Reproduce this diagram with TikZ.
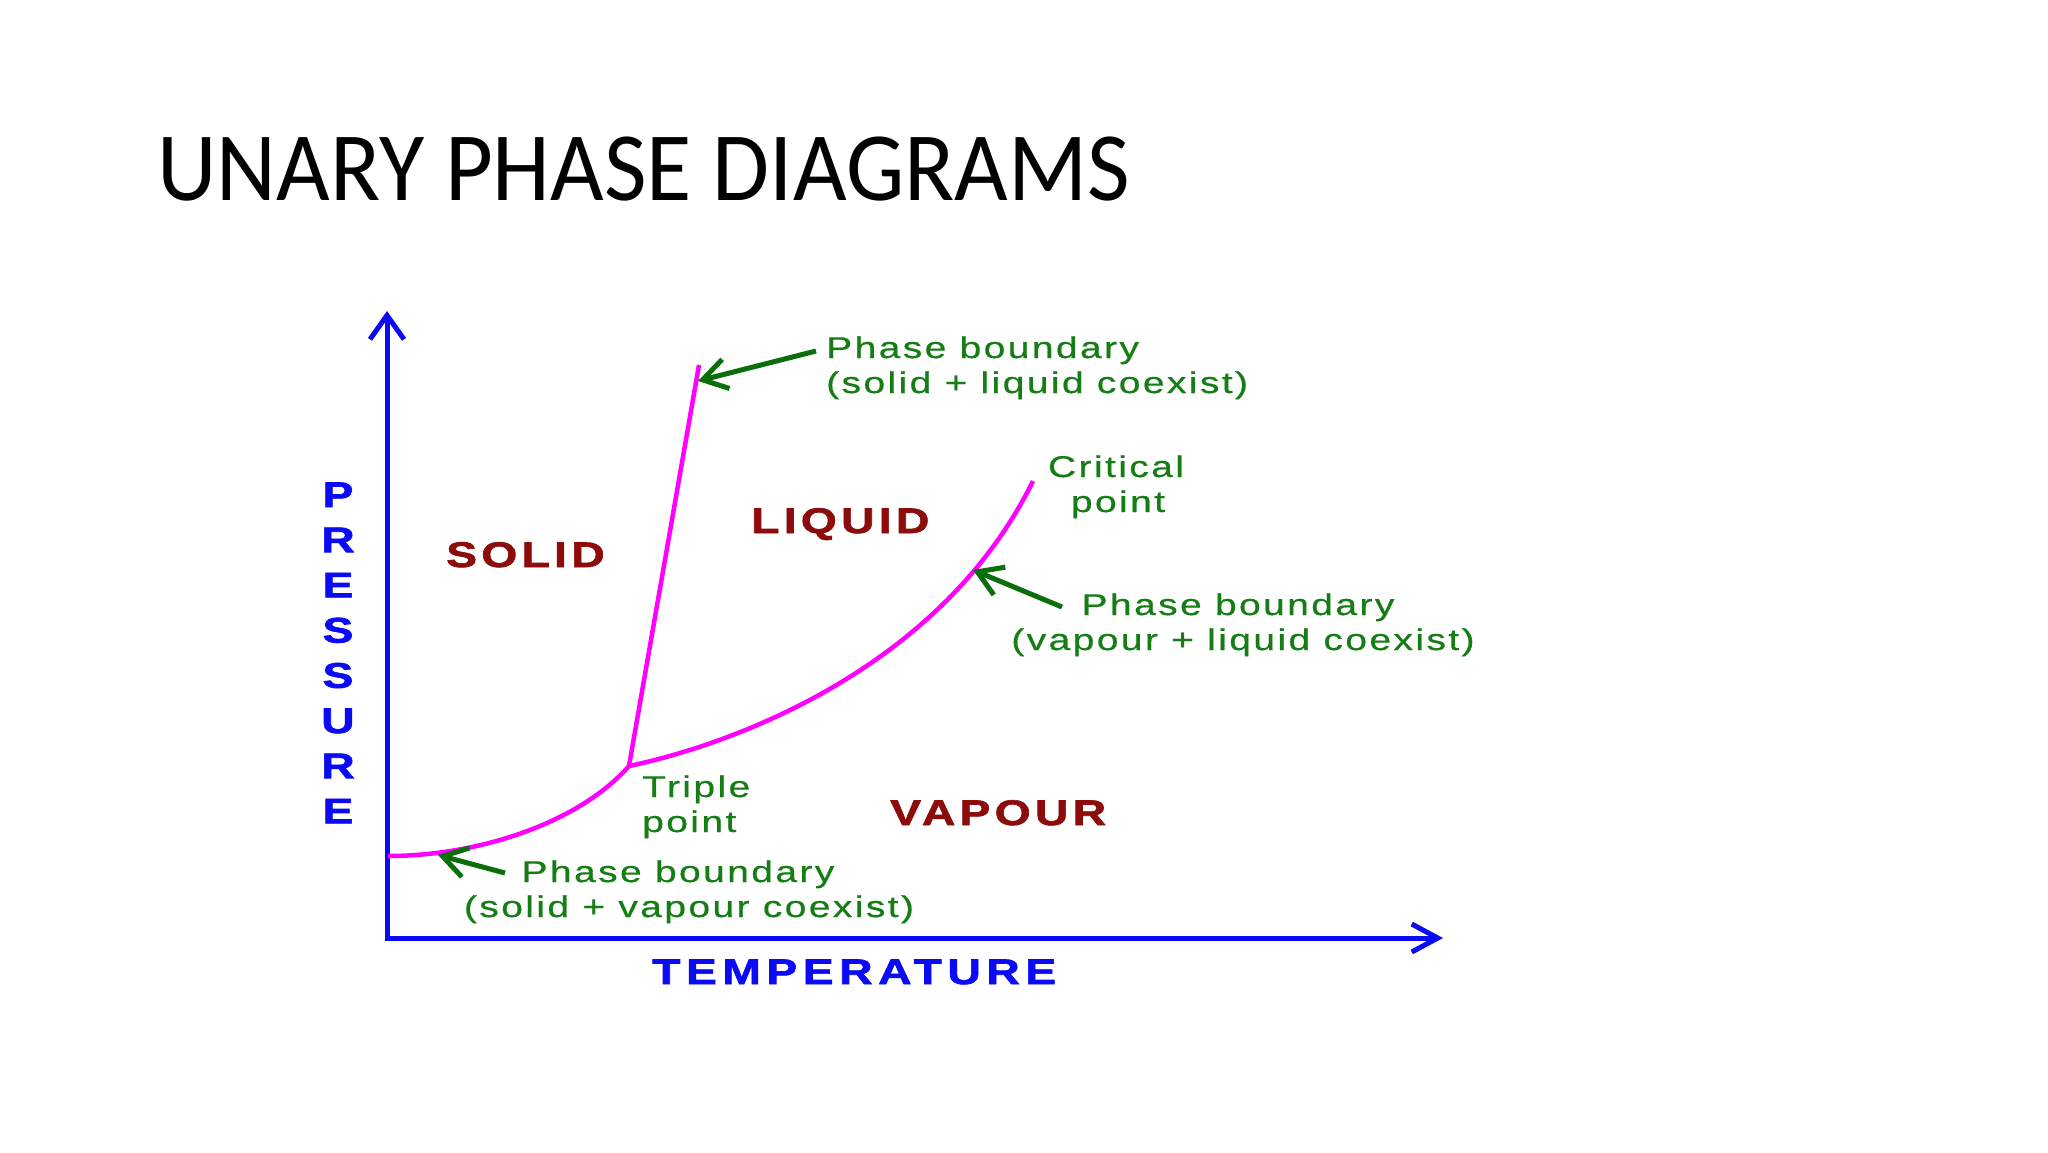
\documentclass[tikz,border=0pt]{standalone}
\usepackage{fontspec}
\usetikzlibrary{arrows.meta}
\setmainfont{Liberation Sans}
\newfontfamily\titlefont[FakeStretch=0.945]{Carlito}
\newfontfamily\gfont[FakeStretch=1.3,LetterSpace=8,FakeBold=0.6]{Liberation Sans}
\newfontfamily\rfont[FakeStretch=1.3,LetterSpace=12,FakeBold=1.8]{Liberation Sans}
\newfontfamily\tfont[FakeStretch=1.3,LetterSpace=15.5,FakeBold=1.8]{Liberation Sans}
\definecolor{lblgreen}{RGB}{20,125,20}
\definecolor{arrgreen}{RGB}{10,110,10}
\definecolor{lblred}{RGB}{140,12,12}
\definecolor{axblue}{RGB}{10,10,245}
\definecolor{curvemag}{RGB}{255,0,255}
\tikzset{
  gtxt/.style={inner sep=0pt, text=lblgreen, font=\gfont\fontsize{30}{35}\selectfont},
  rtxt/.style={inner sep=0pt, text=lblred, font=\rfont\bfseries\fontsize{35.6}{40}\selectfont},
  btxt/.style={inner sep=0pt, text=axblue, font=\rfont\bfseries\fontsize{35.6}{40}\selectfont},
  axisline/.style={draw=axblue, line width=5pt, line join=miter},
  boundary/.style={draw=curvemag, line width=4.5pt},
  garrow/.style={draw=arrgreen, line width=5pt, -{Straight Barb[length=24pt,width=30pt]}},
}
\begin{document}
\begin{tikzpicture}[x=1pt,y=-1pt]
\useasboundingbox (0,0) rectangle (2048,1152);
\fill[white] (0,0) rectangle (2048,1152);

% title
\node[anchor=base west, inner sep=0pt, font=\titlefont\fontsize{98}{110}\selectfont] (title) at (157,200) {UNARY PHASE DIAGRAMS};

% axes
\coordinate (ytop) at (387,311);
\coordinate (orig) at (387,938);
\coordinate (xend) at (1443,938);
\draw[axisline, {Straight Barb[length=24pt,width=34pt]}-{Straight Barb[length=26pt,width=28pt]}] (ytop) -- (orig) -- (xend);

% phase boundaries
\coordinate (sv) at (388,856);
\coordinate (tp) at (629,766);
\coordinate (sl) at (699,365);
\coordinate (cp) at (1033,481);
\draw[boundary] (sv) .. controls (480,856) and (580,822) .. (tp);
\draw[boundary] (tp) .. controls (730,745) and (940,670) .. (cp);
\draw[boundary] (tp) -- (sl);

% region labels
\node[rtxt, anchor=base west] (solid) at (446,567) {SOLID};
\node[rtxt, anchor=base west] (liquid) at (751,533) {LIQUID};
\node[rtxt, anchor=base west] (vapour) at (890,825) {VAPOUR};

% axis labels
\foreach \L [count=\i] in {P,R,E,S,S,U,R,E}
  \node[btxt, anchor=base] (pr\i) at (338,{507+45.2*(\i-1)}) {\L};
\node[btxt, font=\tfont\bfseries\fontsize{35.6}{40}\selectfont, anchor=base west] (temp) at (652,984) {TEMPERATURE};

% annotations
\node[gtxt, anchor=base west] (pb1a) at (826,358) {Phase boundary};
\node[gtxt, anchor=base west] (pb1b) at (826,393) {(solid + liquid coexist)};
\node[gtxt, anchor=base] (cr1) at (1116,477) {Critical};
\node[gtxt, anchor=base] (cr2) at (1118,512) {point};
\node[gtxt, anchor=base] (pb2a) at (1238,615) {Phase boundary};
\node[gtxt, anchor=base] (pb2b) at (1243,650) {(vapour + liquid coexist)};
\node[gtxt, anchor=base west] (tr1) at (642,797) {Triple};
\node[gtxt, anchor=base west] (tr2) at (642,832) {point};
\node[gtxt, anchor=base] (pb3a) at (678,882) {Phase boundary};
\node[gtxt, anchor=base] (pb3b) at (689,917) {(solid + vapour coexist)};

% pointer arrows
\coordinate (a1s) at (816,351);
\coordinate (a1t) at (698,381);
\coordinate (a2s) at (1062,607);
\coordinate (a2t) at (973,570);
\coordinate (a3s) at (505,873);
\coordinate (a3t) at (438,855);
\draw[garrow] (a1s) -- (a1t);
\draw[garrow] (a2s) -- (a2t);
\draw[garrow] (a3s) -- (a3t);
\end{tikzpicture}
\end{document}
